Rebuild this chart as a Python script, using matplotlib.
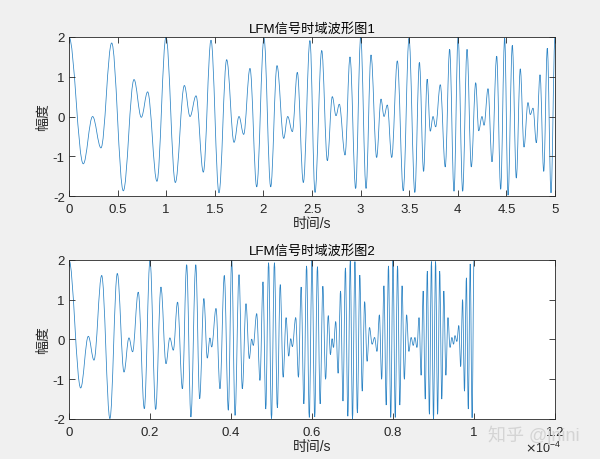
import numpy as np
import matplotlib.pyplot as plt
from matplotlib.path import Path
from matplotlib.patches import PathPatch

plt.rcParams['font.family'] = ['Liberation Sans', 'Noto Sans CJK SC']
plt.rcParams['axes.unicode_minus'] = False

# waveform 1: turning points (time in s, amplitude)
t1 = [0, 0.147, 0.243, 0.329, 0.439, 0.559, 0.669, 0.744, 0.809, 0.905,
      0.998, 1.094, 1.187, 1.245, 1.307, 1.382, 1.461, 1.543, 1.622, 1.698,
      1.749, 1.797, 1.862, 1.931, 2.006, 2.075, 2.140, 2.209, 2.250, 2.298,
      2.349, 2.411, 2.479, 2.531, 2.600, 2.658, 2.709, 2.747, 2.781, 2.840,
      2.891, 2.949, 3.001, 3.056, 3.107, 3.165, 3.21, 3.241, 3.275, 3.32,
      3.378, 3.439, 3.498, 3.558, 3.605, 3.648, 3.685, 3.717, 3.745, 3.772,
      3.82, 3.871, 3.916, 3.961, 4.003, 4.05, 4.095, 4.139, 4.184, 4.215,
      4.249, 4.27, 4.311, 4.352, 4.40, 4.441, 4.482, 4.517, 4.561, 4.602,
      4.643, 4.681, 4.722, 4.746, 4.774, 4.808, 4.846, 4.884, 4.921, 4.959, 5.0]
y1 = [2, -1.19, 0.0, -0.79, 1.85, -1.87, 0.93, -0.02, 0.62, -1.63,
      2.0, -1.66, 0.78, 0.0, 0.52, -1.40, 1.92, -1.92, 1.43, -0.65,
      0.0, -0.45, 1.21, -1.77, 1.97, -1.77, 1.28, -0.55, 0.0, -0.38,
      1.11, -1.66, 1.91, -1.91, 1.66, -1.11, 0.50, 0.02, 0.31, -0.97,
      1.50, -1.81, 2.0, -1.81, 1.55, -1.03, 0.44, 0.0, 0.29, -1.03,
      1.40, -1.87, 1.97, -1.91, 1.36, -1.38, 0.94, -0.37, 0.0, -0.26,
      0.80, -1.27, 1.69, -1.88, 2.0, -1.88, 1.69, -1.27, 0.85, -0.36,
      0.0, -0.22, 0.70, -1.14, 1.52, -1.83, 1.97, -1.98, 1.79, -1.55,
      1.20, -0.77, 0.35, 0.05, 0.21, -0.66, 1.05, -1.38, 1.72, -1.92, 2.0]

# waveform 2: turning points (time in units of 1e-4 s, amplitude)
t2 = [0, 0.0288, 0.0477, 0.0617, 0.0807, 0.101, 0.1193, 0.1358, 0.148, 0.157,
      0.171, 0.186, 0.2, 0.214, 0.227, 0.2395, 0.249, 0.2576, 0.268, 0.280,
      0.2905, 0.301, 0.313, 0.3226, 0.333, 0.3415, 0.348, 0.3523, 0.363, 0.3728,
      0.3835, 0.3934, 0.4017, 0.41, 0.4198, 0.428, 0.437, 0.4452, 0.451, 0.455,
      0.4634, 0.4716, 0.479, 0.4858, 0.4928, 0.5, 0.5072, 0.5144, 0.5216, 0.5288,
      0.536, 0.5425, 0.5475, 0.5515, 0.5598, 0.5665, 0.5732, 0.5799, 0.5866, 0.5933,
      0.6, 0.6067, 0.6134, 0.6201, 0.6268, 0.6335, 0.6402, 0.6455, 0.6495, 0.653,
      0.6585, 0.6645, 0.6705, 0.6765, 0.6825, 0.6885, 0.6945, 0.7, 0.706, 0.712,
      0.718, 0.724, 0.73, 0.736, 0.742, 0.7485, 0.7545, 0.7605, 0.7664, 0.772,
      0.7776, 0.7832, 0.7888, 0.7944, 0.8, 0.8056, 0.8112, 0.8168, 0.8224, 0.828,
      0.8336, 0.8392, 0.8448, 0.85, 0.854, 0.8592, 0.8643, 0.8694, 0.8745, 0.8796,
      0.8847, 0.8898, 0.8949, 0.9, 0.9051, 0.9102, 0.9153, 0.9204, 0.9255, 0.9306,
      0.9357, 0.9408, 0.9455, 0.9495, 0.953, 0.9577, 0.9624, 0.9671, 0.9718, 0.9765,
      0.9812, 0.9859, 0.9906, 0.9953, 1.0]
y2 = [2.0, -1.22, 0.08, -0.52, 1.61, -1.99, 1.66, -0.82, 0.04, -0.31,
      1.19, -1.74, 2.0, -1.76, 1.32, -0.61, 0.04, -0.27, 0.94, -1.24,
      1.88, -1.95, 1.88, -1.49, 1.03, -0.47, 0.04, -0.19, 0.78, -1.24,
      1.61, -1.78, 2.0, -1.91, 1.63, -1.24, 0.90, -0.48, 0.01, -0.15,
      0.65, -1.03, 1.45, -1.75, 1.93, -2.0, 1.93, -1.72, 1.38, -0.95,
      0.55, -0.42, 0.02, -0.18, 0.55, -0.95, 1.32, -1.62, 1.85, -1.96,
      2.0, -1.95, 1.83, -1.62, 1.34, -1.0, 0.6, -0.38, 0.02, -0.2,
      0.45, -0.85, 1.22, -1.55, 1.8, -1.93, 1.97, -2.0, 1.96, -1.85,
      1.62, -1.3, 0.95, -0.55, 0.3, -0.12, 0.05, -0.3, 0.62, -1.0,
      1.35, -1.65, 1.85, -1.96, 2.0, -1.96, 1.85, -1.65, 1.35, -1.0,
      0.62, -0.3, 0.05, -0.15, 0.05, -0.2, 0.55, -0.9, 1.22, -1.5,
      1.72, -1.88, 1.96, -2.0, 1.96, -1.88, 1.72, -1.5, 1.22, -0.9,
      0.55, -0.2, 0.05, -0.12, 0.1, -0.05, 0.35, -0.68, 1.0, -1.3,
      1.55, -1.75, 1.9, -1.97, 2.0]

xticks1 = np.arange(0, 5.01, 0.5)
xticks2 = np.arange(0, 1.21e-4, 0.2e-4)
yticks = [-2, -1, 0, 1, 2]

line_color = '#2b83c4'
ax_color = '#262626'


def wave(ax, t, y):
    # smooth stroke through the turning points: flat tangent at every peak/trough
    t = np.asarray(t, float)
    y = np.asarray(y, float)
    verts = [(t[0], y[0])]
    codes = [Path.MOVETO]
    for i in range(len(t) - 1):
        h = 0.364 * (t[i + 1] - t[i])
        verts += [(t[i] + h, y[i]), (t[i + 1] - h, y[i + 1]), (t[i + 1], y[i + 1])]
        codes += [Path.CURVE4] * 3
    ax.add_patch(PathPatch(Path(verts, codes), fill=False, edgecolor=line_color,
                           linewidth=0.55))


def style(ax):
    for sp in ax.spines.values():
        sp.set_color(ax_color)
        sp.set_linewidth(0.6)
    ax.tick_params(direction='in', top=True, right=True, length=4, width=0.6,
                   colors=ax_color, labelsize=9.5, pad=3)
    ax.tick_params(axis='x', pad=5)
    ax.set_ylim(-2, 2)
    ax.set_yticks(yticks)
    ax.set_ylabel('幅度', fontsize=10, color=ax_color, labelpad=2)
    ax.set_xlabel('时间/s', fontsize=10, color=ax_color, labelpad=1)


fig = plt.figure(figsize=(6, 4.6), dpi=100, facecolor='#f0f0f0')
ax1 = fig.add_axes([0.115, 0.5717, 0.81, 0.3457])
ax2 = fig.add_axes([0.115, 0.087, 0.81, 0.3457])

wave(ax1, t1, y1)
ax1.set_xlim(0, 5)
ax1.set_xticks(xticks1)
ax1.set_xticklabels(['0', '0.5', '1', '1.5', '2', '2.5', '3', '3.5', '4', '4.5', '5'])
style(ax1)
ax1.set_title('LFM信号时域波形图1', fontsize=9.5, color='black', pad=4)

wave(ax2, np.array(t2) * 1e-4, y2)
ax2.set_xlim(0, 1.2e-4)
ax2.set_xticks(xticks2)
ax2.set_xticklabels(['0', '0.2', '0.4', '0.6', '0.8', '1', '1.2'])
style(ax2)
ax2.set_title('LFM信号时域波形图2', fontsize=9.5, color='black', pad=4)
# exponent note under the right end of the axis, as MATLAB places it
fig.text(0.935, 0.025, r'$\times\mathdefault{10^{-4}}$', fontsize=9, color=ax_color,
         ha='right', va='center')

fig.text(0.813, 0.053, '知乎 @jnini', fontsize=13, color='#d4d4d4',
         ha='left', va='center')

fig.savefig('out.png', dpi=100, facecolor=fig.get_facecolor())
